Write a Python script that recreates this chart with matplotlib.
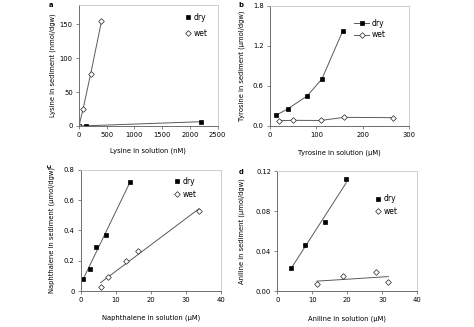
import numpy as np
import matplotlib
matplotlib.use("Agg")
import matplotlib.pyplot as plt
from matplotlib.lines import Line2D

plt.rcParams['font.family'] = ['DejaVu Sans']
FS = 4.9

# ---- data -------------------------------------------------------------
# (a) lysine, nM in solution vs nmol/dgw in sediment
lys_dry_x = [0, 120, 2200]
lys_dry_y = [0, 0.3, 6.3]
lys_wet_x = [0, 75, 210, 405]
lys_wet_y = [0, 25.7, 76.5, 154]

# (b) tyrosine, uM vs umol/dgw
tyr_dry_x = [14, 38, 80, 112, 157]
tyr_dry_y = [0.165, 0.255, 0.45, 0.705, 1.425]
tyr_wet_x = [20, 50, 109, 160, 266]
tyr_wet_y = [0.08, 0.085, 0.083, 0.13, 0.125]

# (c) naphthalene, uM vs umol/dgw
nap_dry_x = [0.6, 2.7, 4.3, 7.1, 14.1]
nap_dry_y = [0.077, 0.145, 0.29, 0.367, 0.72]
nap_wet_x = [5.7, 7.7, 12.9, 16.5, 33.8]
nap_wet_y = [0.026, 0.095, 0.196, 0.264, 0.53]

# (d) aniline, uM vs umol/dgw
ani_dry_x = [3.9, 7.8, 13.7, 19.7]
ani_dry_y = [0.0233, 0.0457, 0.0687, 0.112]
ani_wet_x = [11.3, 18.7, 28.2, 31.7]
ani_wet_y = [0.0067, 0.015, 0.019, 0.0087]

W, H = 474, 327
fig = plt.figure(figsize=(W / 100, H / 100), dpi=100)


def make_axes(left, right, bottom, top):
    return fig.add_axes([left / W, 1 - bottom / H, (right - left) / W, (bottom - top) / H])


LINE_C = '#5a5a5a'
DRY = dict(marker='s', ms=3.3, mfc='black', mec='black', mew=0.5)
WET = dict(marker='D', ms=2.9, mfc='white', mec='#222222', mew=0.5)


def style(ax, xlim, ylim, xticks, yticks, yfmt, xlabel, ylabel, ylx, xly):
    ax.set_xlim(*xlim)
    ax.set_ylim(*ylim)
    ax.set_xticks(xticks)
    ax.set_yticks(yticks)
    ax.set_yticklabels([yfmt(v) for v in yticks])
    ax.tick_params(labelsize=FS, length=2, width=0.5, color='#555555', pad=2.5,
                   direction='out')
    for s in ('left', 'bottom'):
        ax.spines[s].set_color('#6e6e6e')
        ax.spines[s].set_linewidth(0.7)
    for s in ('top', 'right'):
        ax.spines[s].set_color('#c8c8c8')
        ax.spines[s].set_linewidth(0.6)
    ax.set_xlabel(xlabel, fontsize=FS)
    ax.set_ylabel(ylabel, fontsize=FS)
    ax.yaxis.set_label_coords(ylx, 0.5)
    ax.xaxis.set_label_coords(0.5, xly)
    ax.xaxis.label.set_va('center')
    ax.yaxis.label.set_va('center')


def legend(ax, x, y, with_line, spacing):
    ls = '-' if with_line else 'none'
    h = [Line2D([], [], color=LINE_C, lw=0.7, ls=ls, **DRY),
         Line2D([], [], color=LINE_C, lw=0.7, ls=ls, **WET)]
    ax.legend(h, ['dry', 'wet'], loc='upper left', bbox_to_anchor=(x, y),
              frameon=False, fontsize=FS + 0.6,
              handlelength=2.0 if with_line else 0.8,
              handletextpad=0.3, labelspacing=spacing, borderpad=0, borderaxespad=0)


def fit_line(ax, xs, ys):
    k, b = np.polyfit(xs, ys, 1)
    xx = np.array([min(xs), max(xs)])
    ax.plot(xx, k * xx + b, color=LINE_C, lw=0.7, zorder=1)


# (a)
ax = make_axes(79, 217.7, 126, 5)
ax.plot(lys_dry_x, lys_dry_y, color=LINE_C, lw=0.7, **DRY)
ax.plot(lys_wet_x, lys_wet_y, color=LINE_C, lw=0.7, **WET)
style(ax, (0, 2500), (0, 178), [0, 500, 1000, 1500, 2000, 2500], [0, 50, 100, 150],
      lambda v: f'{v:g}', 'Lysine in solution (nM)', 'Lysine in sediment (nmol/dgw)',
      -0.187, -0.207)
legend(ax, 0.765, 0.935, False, 0.95)

# (b)
ax = make_axes(270, 409, 126, 6)
ax.plot(tyr_dry_x, tyr_dry_y, color=LINE_C, lw=0.7, **DRY)
ax.plot(tyr_wet_x, tyr_wet_y, color=LINE_C, lw=0.7, **WET)
style(ax, (0, 300), (0, 1.8), [0, 100, 200, 300], [0, 0.6, 1.2, 1.8],
      lambda v: f'{v:.1f}', 'Tyrosine in solution (\u03bcM)',
      'Tyrosine in sediment (\u03bcmol/dgw)', -0.2, -0.225)
legend(ax, 0.605, 0.895, True, 0.35)

# (c)
ax = make_axes(80.7, 220.7, 291, 169.7)
ax.plot(nap_dry_x, nap_dry_y, ls='none', **DRY)
ax.plot(nap_wet_x, nap_wet_y, ls='none', **WET)
fit_line(ax, nap_dry_x, nap_dry_y)
fit_line(ax, nap_wet_x, nap_wet_y)
style(ax, (0, 40), (0, 0.8), [0, 10, 20, 30, 40], [0, 0.2, 0.4, 0.6, 0.8],
      lambda v: f'{v:g}', 'Naphthalene in solution (\u03bcM)',
      'Naphthalene in sediment (\u03bcmol/dgw)', -0.205, -0.223)
legend(ax, 0.668, 0.94, False, 0.5)

# (d)
ax = make_axes(277.3, 417.3, 291, 171)
ax.plot(ani_dry_x, ani_dry_y, ls='none', **DRY)
ax.plot(ani_wet_x, ani_wet_y, ls='none', **WET)
fit_line(ax, ani_dry_x, ani_dry_y)
fit_line(ax, ani_wet_x, ani_wet_y)
style(ax, (0, 40), (0, 0.12), [0, 10, 20, 30, 40], [0, 0.04, 0.08, 0.12],
      lambda v: f'{v:.2f}', 'Aniline in solution (\u03bcM)',
      'Aniline in sediment (\u03bcmol/dgw)', -0.252, -0.233)
legend(ax, 0.70, 0.805, False, 0.45)

# panel letters
for txt, x, y, rot in [('a', 51, 5, 0), ('b', 241, 5, 0), ('c', 50, 166, 90), ('d', 241, 172, 0)]:
    fig.text(x / W, 1 - y / H, txt, fontsize=FS, fontweight='bold',
             ha='center', va='center', rotation=rot)

fig.savefig('out.png', dpi=100)
